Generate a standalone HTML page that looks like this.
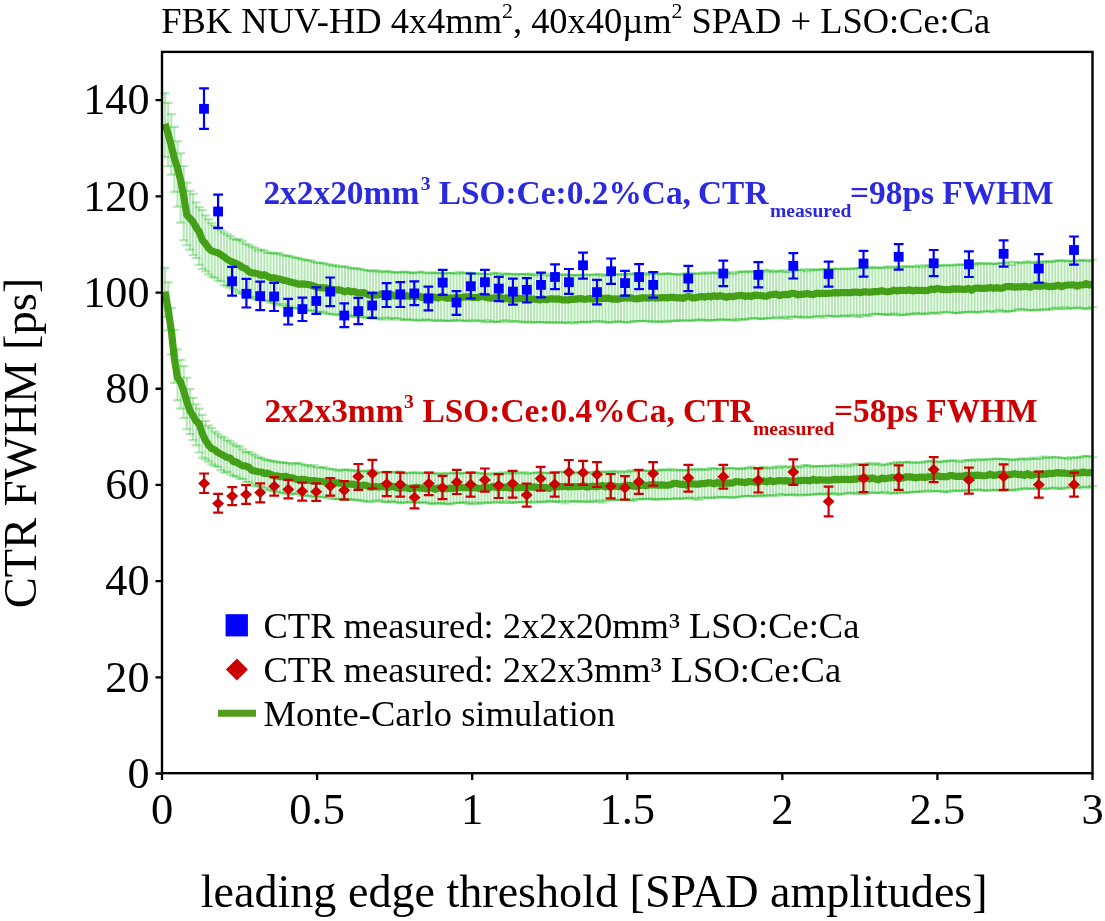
<!DOCTYPE html>
<html><head><meta charset="utf-8"><style>
html,body{margin:0;padding:0;background:#fff;width:1105px;height:921px;overflow:hidden;}
svg{display:block;font-family:"Liberation Serif",serif;will-change:transform;}
</style></head><body>
<svg width="1105" height="921" viewBox="0 0 1105 921">
<rect width="1105" height="921" fill="#fff"/>
<polyline points="165.10,123.68 168.20,134.35 171.31,145.89 174.41,158.51 177.51,167.78 180.61,180.20 183.71,196.06 186.81,214.80 189.91,218.38 193.02,221.96 196.12,227.35 199.22,231.88 202.32,240.08 205.42,243.48 208.53,248.17 211.63,250.86 214.73,251.85 217.83,252.72 220.93,254.78 224.03,256.71 227.13,259.41 230.24,261.01 233.34,262.33 236.44,263.74 239.54,265.24 242.64,267.50 245.75,268.66 248.85,271.74 251.95,272.85 255.05,273.14 258.15,273.88 261.25,275.68 264.36,274.70 267.46,276.29 270.56,277.88 273.66,277.83 276.76,278.56 279.86,279.12 282.97,280.12 286.07,280.68 289.17,281.64 292.27,282.56 295.37,283.10 298.47,284.26 301.58,283.89 304.68,284.08 307.78,284.46 310.88,285.08 313.98,286.17 317.08,287.51 320.19,287.63 323.29,287.79 326.39,288.10 329.49,288.92 332.59,289.52 335.69,289.83 338.80,289.78 341.90,290.64 345.00,291.77 348.10,290.56 351.20,291.92 354.30,291.36 357.41,292.90 360.51,292.82 363.61,292.54 366.71,294.02 369.81,295.17 372.91,294.47 376.01,295.15 379.12,294.69 382.22,293.80 385.32,295.28 388.42,294.98 391.52,294.61 394.62,295.89 397.73,295.79 400.83,295.54 403.93,296.39 407.03,295.67 410.13,296.59 413.24,295.95 416.34,296.84 419.44,296.18 422.54,297.63 425.64,297.16 428.74,297.91 431.85,296.93 434.95,297.26 438.05,298.07 441.15,296.43 444.25,297.22 447.35,298.22 450.46,297.88 453.56,298.09 456.66,297.40 459.76,297.79 462.86,297.19 465.96,296.93 469.07,296.83 472.17,297.46 475.27,297.52 478.37,297.54 481.47,296.14 484.57,296.98 487.68,297.77 490.78,298.24 493.88,297.87 496.98,297.78 500.08,297.13 503.18,299.35 506.29,297.85 509.39,299.30 512.49,299.30 515.59,298.72 518.69,298.36 521.79,298.77 524.89,298.19 528.00,298.95 531.10,298.89 534.20,299.21 537.30,299.48 540.40,299.93 543.51,298.93 546.61,299.71 549.71,298.85 552.81,298.86 555.91,299.06 559.01,298.89 562.12,299.83 565.22,299.75 568.32,299.88 571.42,299.19 574.52,299.30 577.62,298.83 580.73,298.50 583.83,299.25 586.93,299.12 590.03,298.39 593.13,299.19 596.23,297.98 599.34,298.72 602.44,298.45 605.54,298.45 608.64,298.13 611.74,299.10 614.84,298.86 617.95,299.12 621.05,298.55 624.15,297.79 627.25,298.20 630.35,297.75 633.45,298.52 636.56,298.85 639.66,298.36 642.76,297.85 645.86,297.92 648.96,298.16 652.06,297.29 655.17,298.04 658.27,298.02 661.37,297.60 664.47,297.62 667.57,297.86 670.67,297.32 673.78,297.27 676.88,298.03 679.98,297.70 683.08,298.38 686.18,297.00 689.28,296.56 692.39,297.87 695.49,297.83 698.59,296.94 701.69,296.50 704.79,297.12 707.89,296.17 711.00,296.79 714.10,295.77 717.20,296.65 720.30,295.62 723.40,296.46 726.50,297.25 729.61,296.26 732.71,296.69 735.81,295.89 738.91,295.67 742.01,295.27 745.11,296.45 748.22,295.81 751.32,296.55 754.42,295.06 757.52,295.44 760.62,295.50 763.72,296.07 766.83,296.18 769.93,294.85 773.03,294.52 776.13,294.12 779.23,295.57 782.33,294.76 785.44,294.39 788.54,294.59 791.64,293.25 794.74,293.57 797.84,294.81 800.94,294.44 804.05,294.20 807.15,293.52 810.25,294.20 813.35,294.68 816.45,293.07 819.55,293.58 822.66,293.24 825.76,293.53 828.86,293.24 831.96,293.05 835.06,292.57 838.16,292.89 841.27,292.48 844.37,292.60 847.47,292.53 850.57,292.78 853.67,292.05 856.77,292.07 859.88,292.65 862.98,291.90 866.08,291.76 869.18,292.21 872.28,291.81 875.38,291.60 878.49,291.56 881.59,290.72 884.69,291.46 887.79,291.78 890.89,291.29 893.99,290.11 897.10,290.92 900.20,290.22 903.30,290.46 906.40,290.54 909.50,289.78 912.60,290.94 915.71,290.14 918.81,290.47 921.91,290.29 925.01,290.55 928.11,290.37 931.21,288.94 934.32,289.60 937.42,288.41 940.52,289.15 943.62,289.63 946.72,289.63 949.82,289.72 952.93,288.79 956.03,289.04 959.13,288.83 962.23,289.31 965.33,289.37 968.43,288.30 971.54,290.27 974.64,288.28 977.74,288.00 980.84,288.38 983.94,288.36 987.04,288.15 990.15,287.46 993.25,288.42 996.35,287.61 999.45,288.25 1002.55,288.08 1005.65,286.65 1008.76,286.70 1011.86,286.59 1014.96,287.11 1018.06,286.91 1021.16,286.92 1024.26,286.28 1027.37,286.80 1030.47,287.19 1033.57,285.72 1036.67,286.19 1039.77,286.31 1042.87,286.02 1045.98,285.89 1049.08,286.77 1052.18,286.43 1055.28,286.12 1058.38,285.21 1061.48,286.61 1064.59,285.57 1067.69,285.00 1070.79,285.02 1073.89,284.85 1076.99,286.05 1080.09,285.00 1083.20,284.82 1086.30,283.62 1089.40,284.96 1092.50,283.96" stroke="#559b1e" stroke-width="7.2" fill="none" stroke-linejoin="round" stroke-linecap="butt"/>
<path d="M165.10 93.03V156.99M168.20 102.96V166.14M171.31 114.15V174.57M174.41 126.88V191.90M177.51 141.27V206.67M180.61 153.32V222.58M183.71 166.01V240.25M186.81 182.71V245.28M189.91 190.80V249.71M193.02 193.81V255.00M196.12 202.38V258.08M199.22 207.16V264.94M202.32 209.98V268.83M205.42 215.33V271.42M208.53 219.34V274.37M211.63 223.09V276.73M214.73 225.85V277.82M217.83 228.66V280.50M220.93 230.21V281.38M224.03 232.38V285.10M227.13 234.38V286.13M230.24 236.06V287.72M233.34 238.60V289.47M236.44 239.97V291.34M239.54 239.29V292.99M242.64 241.34V294.04M245.75 243.76V295.67M248.85 244.93V296.96M251.95 246.62V297.47M255.05 247.93V299.04M258.15 250.39V299.86M261.25 249.51V299.93M264.36 250.65V300.99M267.46 252.80V300.68M270.56 252.66V302.65M273.66 253.37V303.03M276.76 253.36V304.13M279.86 253.38V305.58M282.97 255.17V304.04M286.07 255.83V306.35M289.17 255.73V306.31M292.27 256.75V308.11M295.37 257.82V307.75M298.47 257.93V308.77M301.58 259.06V309.66M304.68 259.79V310.37M307.78 260.38V310.51M310.88 260.67V310.46M313.98 261.95V311.07M317.08 262.75V312.39M320.19 263.03V312.32M323.29 262.97V311.78M326.39 264.52V313.76M329.49 264.40V313.97M332.59 265.82V314.68M335.69 265.11V314.26M338.80 266.76V315.26M341.90 266.66V314.43M345.00 266.38V315.71M348.10 267.40V315.37M351.20 268.09V316.37M354.30 268.68V316.87M357.41 268.39V316.13M360.51 268.77V316.84M363.61 270.02V317.20M366.71 270.08V318.19M369.81 270.88V318.17M372.91 271.35V317.16M376.01 270.06V318.33M379.12 271.36V318.65M382.22 272.10V319.64M385.32 271.34V317.51M388.42 271.18V318.35M391.52 272.28V319.63M394.62 272.13V318.17M397.73 272.67V318.42M400.83 272.08V319.60M403.93 271.56V320.06M407.03 272.46V319.16M410.13 272.29V319.97M413.24 273.06V319.80M416.34 272.74V320.73M419.44 271.68V319.90M422.54 271.98V320.58M425.64 273.26V319.53M428.74 273.17V320.05M431.85 272.41V320.19M434.95 272.83V321.02M438.05 273.13V320.77M441.15 273.18V320.05M444.25 273.48V320.96M447.35 273.15V321.07M450.46 272.99V320.59M453.56 272.94V320.56M456.66 273.78V320.65M459.76 271.84V319.80M462.86 273.16V320.99M465.96 273.31V321.07M469.07 272.49V320.46M472.17 273.59V321.48M475.27 273.05V320.26M478.37 274.01V320.81M481.47 273.46V320.91M484.57 273.99V322.44M487.68 274.37V320.34M490.78 273.91V321.69M493.88 273.21V321.97M496.98 272.87V321.68M500.08 274.88V322.22M503.18 273.81V320.96M506.29 273.51V320.25M509.39 274.06V322.13M512.49 273.91V321.00M515.59 274.58V321.58M518.69 274.14V321.12M521.79 274.18V322.51M524.89 273.79V322.45M528.00 274.55V321.56M531.10 273.70V322.58M534.20 274.78V322.17M537.30 275.36V322.06M540.40 273.59V322.23M543.51 273.09V322.13M546.61 275.00V322.67M549.71 276.22V322.54M552.81 274.16V322.20M555.91 274.07V323.07M559.01 275.23V322.12M562.12 274.44V322.61M565.22 274.70V322.65M568.32 274.86V323.23M571.42 275.45V322.00M574.52 274.95V323.30M577.62 275.42V322.32M580.73 275.18V322.05M583.83 274.70V321.71M586.93 274.95V322.42M590.03 274.50V322.06M593.13 275.00V321.32M596.23 274.25V321.26M599.34 274.19V321.56M602.44 275.65V321.44M605.54 274.67V322.45M608.64 274.60V322.58M611.74 274.87V322.23M614.84 274.23V321.87M617.95 274.28V321.36M621.05 274.60V321.60M624.15 274.44V322.05M627.25 273.50V322.75M630.35 274.63V321.98M633.45 273.70V321.22M636.56 273.35V321.36M639.66 273.37V321.00M642.76 273.65V320.78M645.86 274.84V321.09M648.96 273.13V321.27M652.06 273.92V322.21M655.17 272.52V321.09M658.27 273.78V321.83M661.37 274.30V322.03M664.47 273.59V320.97M667.57 273.34V321.84M670.67 273.83V321.26M673.78 274.09V320.54M676.88 274.05V320.90M679.98 274.82V320.71M683.08 273.74V320.51M686.18 273.24V320.49M689.28 273.50V320.65M692.39 273.51V320.77M695.49 273.60V319.94M698.59 273.49V320.42M701.69 273.55V319.43M704.79 272.34V320.41M707.89 273.75V320.53M711.00 272.80V320.16M714.10 272.35V320.13M717.20 273.33V320.22M720.30 273.64V319.37M723.40 273.05V319.53M726.50 272.75V319.88M729.61 271.99V320.08M732.71 274.18V319.62M735.81 272.88V320.82M738.91 271.57V319.14M742.01 271.69V319.70M745.11 272.11V319.76M748.22 271.02V318.83M751.32 271.96V318.32M754.42 271.48V318.00M757.52 272.40V318.71M760.62 272.14V319.19M763.72 269.83V318.59M766.83 271.39V318.43M769.93 270.29V318.00M773.03 271.83V318.47M776.13 271.16V316.76M779.23 271.29V318.08M782.33 270.23V317.86M785.44 271.86V316.93M788.54 271.88V318.96M791.64 269.93V316.73M794.74 270.69V316.82M797.84 269.97V316.65M800.94 270.26V317.94M804.05 269.41V316.64M807.15 271.19V317.48M810.25 269.39V317.33M813.35 269.70V317.04M816.45 270.07V316.01M819.55 269.29V316.33M822.66 269.43V317.60M825.76 269.14V315.73M828.86 269.30V315.91M831.96 268.57V316.21M835.06 268.92V316.70M838.16 268.95V316.27M841.27 268.78V316.47M844.37 268.91V315.28M847.47 268.61V316.40M850.57 269.13V316.07M853.67 268.39V314.68M856.77 268.40V316.46M859.88 267.99V316.82M862.98 267.97V314.89M866.08 267.43V315.28M869.18 268.40V315.99M872.28 267.30V314.17M875.38 267.44V313.77M878.49 268.00V314.09M881.59 267.93V314.43M884.69 267.35V314.33M887.79 266.28V314.94M890.89 267.64V314.64M893.99 267.45V313.64M897.10 266.35V314.63M900.20 267.55V315.32M903.30 266.56V314.81M906.40 266.19V314.59M909.50 266.80V313.91M912.60 266.52V314.39M915.71 266.64V313.12M918.81 265.43V314.06M921.91 267.37V313.46M925.01 265.81V314.09M928.11 265.13V313.59M931.21 266.31V312.56M934.32 265.61V313.19M937.42 265.90V313.75M940.52 265.38V312.24M943.62 265.44V312.49M946.72 265.50V312.26M949.82 264.79V311.73M952.93 265.53V313.10M956.03 264.73V313.22M959.13 264.37V312.81M962.23 264.82V312.38M965.33 264.93V312.10M968.43 264.41V312.18M971.54 263.91V311.50M974.64 264.69V312.38M977.74 263.14V312.37M980.84 263.47V312.20M983.94 263.99V311.23M987.04 263.04V311.50M990.15 263.75V311.25M993.25 263.59V312.33M996.35 264.04V311.26M999.45 262.84V309.93M1002.55 262.90V311.20M1005.65 263.36V311.99M1008.76 261.57V311.17M1011.86 264.79V311.19M1014.96 262.39V310.59M1018.06 262.26V309.29M1021.16 263.10V309.28M1024.26 262.44V309.52M1027.37 261.28V310.10M1030.47 262.61V310.26M1033.57 262.63V310.39M1036.67 261.73V309.68M1039.77 261.72V310.36M1042.87 262.06V309.52M1045.98 261.11V309.16M1049.08 261.80V310.00M1052.18 261.54V308.84M1055.28 260.90V307.65M1058.38 260.36V308.56M1061.48 260.94V309.15M1064.59 260.43V307.15M1067.69 261.45V308.69M1070.79 260.82V308.60M1073.89 261.08V307.85M1076.99 260.58V307.72M1080.09 260.54V308.23M1083.20 259.80V308.08M1086.30 260.55V309.07M1089.40 261.11V308.44M1092.50 259.73V307.17" stroke="#00b400" stroke-opacity="0.30" stroke-width="2.0" fill="none"/>
<path d="M160.60 93.03h9M160.60 156.99h9M169.91 126.88h9M169.91 191.90h9M179.21 166.01h9M179.21 240.25h9M188.52 193.81h9M188.52 255.00h9M197.82 209.98h9M197.82 268.83h9M207.13 223.09h9M207.13 276.73h9M216.43 230.21h9M216.43 281.38h9M225.74 236.06h9M225.74 287.72h9M235.04 239.29h9M235.04 292.99h9M244.35 244.93h9M244.35 296.96h9M253.65 250.39h9M253.65 299.86h9M262.96 252.80h9M262.96 300.68h9M272.26 253.36h9M272.26 304.13h9M281.57 255.83h9M281.57 306.35h9M290.87 257.82h9M290.87 307.75h9M300.18 259.79h9M300.18 310.37h9M309.48 261.95h9M309.48 311.07h9M318.79 262.97h9M318.79 311.78h9M328.09 265.82h9M328.09 314.68h9M337.40 266.66h9M337.40 314.43h9M346.70 268.09h9M346.70 316.37h9M356.01 268.77h9M356.01 316.84h9M365.31 270.88h9M365.31 318.17h9M374.62 271.36h9M374.62 318.65h9M383.92 271.18h9M383.92 318.35h9M393.23 272.67h9M393.23 318.42h9M402.53 272.46h9M402.53 319.16h9M411.84 272.74h9M411.84 320.73h9M421.14 273.26h9M421.14 319.53h9M430.45 272.83h9M430.45 321.02h9M439.75 273.48h9M439.75 320.96h9M449.06 272.94h9M449.06 320.56h9M458.36 273.16h9M458.36 320.99h9M467.67 273.59h9M467.67 321.48h9M476.97 273.46h9M476.97 320.91h9M486.28 273.91h9M486.28 321.69h9M495.58 274.88h9M495.58 322.22h9M504.89 274.06h9M504.89 322.13h9M514.19 274.14h9M514.19 321.12h9M523.50 274.55h9M523.50 321.56h9M532.80 275.36h9M532.80 322.06h9M542.11 275.00h9M542.11 322.67h9M551.41 274.07h9M551.41 323.07h9M560.72 274.70h9M560.72 322.65h9M570.02 274.95h9M570.02 323.30h9M579.33 274.70h9M579.33 321.71h9M588.63 275.00h9M588.63 321.32h9M597.94 275.65h9M597.94 321.44h9M607.24 274.87h9M607.24 322.23h9M616.55 274.60h9M616.55 321.60h9M625.85 274.63h9M625.85 321.98h9M635.16 273.37h9M635.16 321.00h9M644.46 273.13h9M644.46 321.27h9M653.77 273.78h9M653.77 321.83h9M663.07 273.34h9M663.07 321.84h9M672.38 274.05h9M672.38 320.90h9M681.68 273.24h9M681.68 320.49h9M690.99 273.60h9M690.99 319.94h9M700.29 272.34h9M700.29 320.41h9M709.60 272.35h9M709.60 320.13h9M718.90 273.05h9M718.90 319.53h9M728.21 274.18h9M728.21 319.62h9M737.51 271.69h9M737.51 319.70h9M746.82 271.96h9M746.82 318.32h9M756.12 272.14h9M756.12 319.19h9M765.43 270.29h9M765.43 318.00h9M774.73 271.29h9M774.73 318.08h9M784.04 271.88h9M784.04 318.96h9M793.34 269.97h9M793.34 316.65h9M802.65 271.19h9M802.65 317.48h9M811.95 270.07h9M811.95 316.01h9M821.26 269.14h9M821.26 315.73h9M830.56 268.92h9M830.56 316.70h9M839.87 268.91h9M839.87 315.28h9M849.17 268.39h9M849.17 314.68h9M858.48 267.97h9M858.48 314.89h9M867.78 267.30h9M867.78 314.17h9M877.09 267.93h9M877.09 314.43h9M886.39 267.64h9M886.39 314.64h9M895.70 267.55h9M895.70 315.32h9M905.00 266.80h9M905.00 313.91h9M914.31 265.43h9M914.31 314.06h9M923.61 265.13h9M923.61 313.59h9M932.92 265.90h9M932.92 313.75h9M942.22 265.50h9M942.22 312.26h9M951.53 264.73h9M951.53 313.22h9M960.83 264.93h9M960.83 312.10h9M970.14 264.69h9M970.14 312.38h9M979.44 263.99h9M979.44 311.23h9M988.75 263.59h9M988.75 312.33h9M998.05 262.90h9M998.05 311.20h9M1007.36 264.79h9M1007.36 311.19h9M1016.66 263.10h9M1016.66 309.28h9M1025.97 262.61h9M1025.97 310.26h9M1035.27 261.72h9M1035.27 310.36h9M1044.58 261.80h9M1044.58 310.00h9M1053.88 260.36h9M1053.88 308.56h9M1063.19 261.45h9M1063.19 308.69h9M1072.49 260.58h9M1072.49 307.72h9M1081.80 260.55h9M1081.80 309.07h9" stroke="#00b400" stroke-opacity="0.30" stroke-width="2.2" fill="none"/>
<path d="M163.70 102.96h9M163.70 166.14h9M173.01 141.27h9M173.01 206.67h9M182.31 182.71h9M182.31 245.28h9M191.62 202.38h9M191.62 258.08h9M200.92 215.33h9M200.92 271.42h9M210.23 225.85h9M210.23 277.82h9M219.53 232.38h9M219.53 285.10h9M228.84 238.60h9M228.84 289.47h9M238.14 241.34h9M238.14 294.04h9M247.45 246.62h9M247.45 297.47h9M256.75 249.51h9M256.75 299.93h9M266.06 252.66h9M266.06 302.65h9M275.36 253.38h9M275.36 305.58h9M284.67 255.73h9M284.67 306.31h9M293.97 257.93h9M293.97 308.77h9M303.28 260.38h9M303.28 310.51h9M312.58 262.75h9M312.58 312.39h9M321.89 264.52h9M321.89 313.76h9M331.19 265.11h9M331.19 314.26h9M340.50 266.38h9M340.50 315.71h9M349.80 268.68h9M349.80 316.87h9M359.11 270.02h9M359.11 317.20h9M368.41 271.35h9M368.41 317.16h9M377.72 272.10h9M377.72 319.64h9M387.02 272.28h9M387.02 319.63h9M396.33 272.08h9M396.33 319.60h9M405.63 272.29h9M405.63 319.97h9M414.94 271.68h9M414.94 319.90h9M424.24 273.17h9M424.24 320.05h9M433.55 273.13h9M433.55 320.77h9M442.85 273.15h9M442.85 321.07h9M452.16 273.78h9M452.16 320.65h9M461.46 273.31h9M461.46 321.07h9M470.77 273.05h9M470.77 320.26h9M480.07 273.99h9M480.07 322.44h9M489.38 273.21h9M489.38 321.97h9M498.68 273.81h9M498.68 320.96h9M507.99 273.91h9M507.99 321.00h9M517.29 274.18h9M517.29 322.51h9M526.60 273.70h9M526.60 322.58h9M535.90 273.59h9M535.90 322.23h9M545.21 276.22h9M545.21 322.54h9M554.51 275.23h9M554.51 322.12h9M563.82 274.86h9M563.82 323.23h9M573.12 275.42h9M573.12 322.32h9M582.43 274.95h9M582.43 322.42h9M591.73 274.25h9M591.73 321.26h9M601.04 274.67h9M601.04 322.45h9M610.34 274.23h9M610.34 321.87h9M619.65 274.44h9M619.65 322.05h9M628.95 273.70h9M628.95 321.22h9M638.26 273.65h9M638.26 320.78h9M647.56 273.92h9M647.56 322.21h9M656.87 274.30h9M656.87 322.03h9M666.17 273.83h9M666.17 321.26h9M675.48 274.82h9M675.48 320.71h9M684.78 273.50h9M684.78 320.65h9M694.09 273.49h9M694.09 320.42h9M703.39 273.75h9M703.39 320.53h9M712.70 273.33h9M712.70 320.22h9M722.00 272.75h9M722.00 319.88h9M731.31 272.88h9M731.31 320.82h9M740.61 272.11h9M740.61 319.76h9M749.92 271.48h9M749.92 318.00h9M759.22 269.83h9M759.22 318.59h9M768.53 271.83h9M768.53 318.47h9M777.83 270.23h9M777.83 317.86h9M787.14 269.93h9M787.14 316.73h9M796.44 270.26h9M796.44 317.94h9M805.75 269.39h9M805.75 317.33h9M815.05 269.29h9M815.05 316.33h9M824.36 269.30h9M824.36 315.91h9M833.66 268.95h9M833.66 316.27h9M842.97 268.61h9M842.97 316.40h9M852.27 268.40h9M852.27 316.46h9M861.58 267.43h9M861.58 315.28h9M870.88 267.44h9M870.88 313.77h9M880.19 267.35h9M880.19 314.33h9M889.49 267.45h9M889.49 313.64h9M898.80 266.56h9M898.80 314.81h9M908.10 266.52h9M908.10 314.39h9M917.41 267.37h9M917.41 313.46h9M926.71 266.31h9M926.71 312.56h9M936.02 265.38h9M936.02 312.24h9M945.32 264.79h9M945.32 311.73h9M954.63 264.37h9M954.63 312.81h9M963.93 264.41h9M963.93 312.18h9M973.24 263.14h9M973.24 312.37h9M982.54 263.04h9M982.54 311.50h9M991.85 264.04h9M991.85 311.26h9M1001.15 263.36h9M1001.15 311.99h9M1010.46 262.39h9M1010.46 310.59h9M1019.76 262.44h9M1019.76 309.52h9M1029.07 262.63h9M1029.07 310.39h9M1038.37 262.06h9M1038.37 309.52h9M1047.68 261.54h9M1047.68 308.84h9M1056.98 260.94h9M1056.98 309.15h9M1066.29 260.82h9M1066.29 308.60h9M1075.59 260.54h9M1075.59 308.23h9M1084.90 261.11h9M1084.90 308.44h9" stroke="#00b400" stroke-opacity="0.30" stroke-width="2.2" fill="none"/>
<path d="M166.81 114.15h9M166.81 174.57h9M176.11 153.32h9M176.11 222.58h9M185.41 190.80h9M185.41 249.71h9M194.72 207.16h9M194.72 264.94h9M204.03 219.34h9M204.03 274.37h9M213.33 228.66h9M213.33 280.50h9M222.63 234.38h9M222.63 286.13h9M231.94 239.97h9M231.94 291.34h9M241.25 243.76h9M241.25 295.67h9M250.55 247.93h9M250.55 299.04h9M259.86 250.65h9M259.86 300.99h9M269.16 253.37h9M269.16 303.03h9M278.47 255.17h9M278.47 304.04h9M287.77 256.75h9M287.77 308.11h9M297.08 259.06h9M297.08 309.66h9M306.38 260.67h9M306.38 310.46h9M315.69 263.03h9M315.69 312.32h9M324.99 264.40h9M324.99 313.97h9M334.30 266.76h9M334.30 315.26h9M343.60 267.40h9M343.60 315.37h9M352.91 268.39h9M352.91 316.13h9M362.21 270.08h9M362.21 318.19h9M371.51 270.06h9M371.51 318.33h9M380.82 271.34h9M380.82 317.51h9M390.12 272.13h9M390.12 318.17h9M399.43 271.56h9M399.43 320.06h9M408.74 273.06h9M408.74 319.80h9M418.04 271.98h9M418.04 320.58h9M427.35 272.41h9M427.35 320.19h9M436.65 273.18h9M436.65 320.05h9M445.96 272.99h9M445.96 320.59h9M455.26 271.84h9M455.26 319.80h9M464.57 272.49h9M464.57 320.46h9M473.87 274.01h9M473.87 320.81h9M483.18 274.37h9M483.18 320.34h9M492.48 272.87h9M492.48 321.68h9M501.79 273.51h9M501.79 320.25h9M511.09 274.58h9M511.09 321.58h9M520.39 273.79h9M520.39 322.45h9M529.70 274.78h9M529.70 322.17h9M539.01 273.09h9M539.01 322.13h9M548.31 274.16h9M548.31 322.20h9M557.62 274.44h9M557.62 322.61h9M566.92 275.45h9M566.92 322.00h9M576.23 275.18h9M576.23 322.05h9M585.53 274.50h9M585.53 322.06h9M594.84 274.19h9M594.84 321.56h9M604.14 274.60h9M604.14 322.58h9M613.45 274.28h9M613.45 321.36h9M622.75 273.50h9M622.75 322.75h9M632.06 273.35h9M632.06 321.36h9M641.36 274.84h9M641.36 321.09h9M650.67 272.52h9M650.67 321.09h9M659.97 273.59h9M659.97 320.97h9M669.28 274.09h9M669.28 320.54h9M678.58 273.74h9M678.58 320.51h9M687.89 273.51h9M687.89 320.77h9M697.19 273.55h9M697.19 319.43h9M706.50 272.80h9M706.50 320.16h9M715.80 273.64h9M715.80 319.37h9M725.11 271.99h9M725.11 320.08h9M734.41 271.57h9M734.41 319.14h9M743.72 271.02h9M743.72 318.83h9M753.02 272.40h9M753.02 318.71h9M762.33 271.39h9M762.33 318.43h9M771.63 271.16h9M771.63 316.76h9M780.94 271.86h9M780.94 316.93h9M790.24 270.69h9M790.24 316.82h9M799.55 269.41h9M799.55 316.64h9M808.85 269.70h9M808.85 317.04h9M818.16 269.43h9M818.16 317.60h9M827.46 268.57h9M827.46 316.21h9M836.77 268.78h9M836.77 316.47h9M846.07 269.13h9M846.07 316.07h9M855.38 267.99h9M855.38 316.82h9M864.68 268.40h9M864.68 315.99h9M873.99 268.00h9M873.99 314.09h9M883.29 266.28h9M883.29 314.94h9M892.60 266.35h9M892.60 314.63h9M901.90 266.19h9M901.90 314.59h9M911.21 266.64h9M911.21 313.12h9M920.51 265.81h9M920.51 314.09h9M929.82 265.61h9M929.82 313.19h9M939.12 265.44h9M939.12 312.49h9M948.43 265.53h9M948.43 313.10h9M957.73 264.82h9M957.73 312.38h9M967.04 263.91h9M967.04 311.50h9M976.34 263.47h9M976.34 312.20h9M985.65 263.75h9M985.65 311.25h9M994.95 262.84h9M994.95 309.93h9M1004.26 261.57h9M1004.26 311.17h9M1013.56 262.26h9M1013.56 309.29h9M1022.87 261.28h9M1022.87 310.10h9M1032.17 261.73h9M1032.17 309.68h9M1041.48 261.11h9M1041.48 309.16h9M1050.78 260.90h9M1050.78 307.65h9M1060.09 260.43h9M1060.09 307.15h9M1069.39 261.08h9M1069.39 307.85h9M1078.70 259.80h9M1078.70 308.08h9M1088.00 259.73h9M1088.00 307.17h9" stroke="#00b400" stroke-opacity="0.30" stroke-width="2.2" fill="none"/>
<polyline points="165.10,291.53 168.20,309.80 171.31,330.24 174.41,358.99 177.51,377.61 180.61,381.88 183.71,391.08 186.81,401.43 189.91,410.70 193.02,415.66 196.12,420.91 199.22,423.96 202.32,433.53 205.42,440.11 208.53,445.03 211.63,448.49 214.73,449.73 217.83,452.42 220.93,454.17 224.03,455.80 227.13,457.45 230.24,458.10 233.34,461.69 236.44,462.10 239.54,464.13 242.64,465.88 245.75,465.93 248.85,467.36 251.95,470.37 255.05,471.07 258.15,471.77 261.25,471.98 264.36,473.34 267.46,473.06 270.56,474.25 273.66,475.86 276.76,475.73 279.86,476.61 282.97,476.55 286.07,476.45 289.17,477.71 292.27,477.75 295.37,479.09 298.47,479.76 301.58,479.25 304.68,479.42 307.78,480.15 310.88,480.81 313.98,480.67 317.08,481.05 320.19,481.27 323.29,481.75 326.39,482.22 329.49,481.86 332.59,482.28 335.69,482.85 338.80,482.80 341.90,483.51 345.00,484.02 348.10,484.05 351.20,484.07 354.30,484.29 357.41,485.86 360.51,485.73 363.61,485.04 366.71,485.49 369.81,487.10 372.91,487.07 376.01,486.53 379.12,487.20 382.22,486.03 385.32,486.93 388.42,487.46 391.52,486.31 394.62,487.00 397.73,487.94 400.83,488.27 403.93,487.56 407.03,488.07 410.13,488.76 413.24,487.80 416.34,487.36 419.44,488.03 422.54,487.90 425.64,488.78 428.74,488.24 431.85,487.80 434.95,489.43 438.05,488.02 441.15,488.53 444.25,488.57 447.35,488.56 450.46,488.19 453.56,488.33 456.66,487.94 459.76,487.20 462.86,487.76 465.96,487.75 469.07,487.73 472.17,487.86 475.27,487.45 478.37,488.39 481.47,488.48 484.57,486.57 487.68,487.65 490.78,487.26 493.88,486.28 496.98,487.76 500.08,487.22 503.18,487.31 506.29,487.14 509.39,487.98 512.49,488.03 515.59,487.52 518.69,487.70 521.79,487.27 524.89,487.37 528.00,486.90 531.10,487.26 534.20,486.85 537.30,487.37 540.40,487.57 543.51,487.28 546.61,487.69 549.71,488.41 552.81,485.98 555.91,487.02 559.01,486.70 562.12,486.72 565.22,486.24 568.32,486.92 571.42,486.74 574.52,486.52 577.62,486.68 580.73,486.48 583.83,485.58 586.93,487.26 590.03,486.54 593.13,486.19 596.23,486.79 599.34,486.27 602.44,485.44 605.54,486.88 608.64,485.50 611.74,486.14 614.84,486.22 617.95,486.74 621.05,486.57 624.15,485.96 627.25,485.41 630.35,485.49 633.45,486.15 636.56,486.41 639.66,485.69 642.76,485.01 645.86,485.75 648.96,484.96 652.06,484.85 655.17,484.82 658.27,485.16 661.37,484.91 664.47,485.18 667.57,485.24 670.67,484.76 673.78,483.24 676.88,483.47 679.98,484.30 683.08,484.10 686.18,485.12 689.28,483.93 692.39,483.78 695.49,484.23 698.59,484.20 701.69,483.46 704.79,483.72 707.89,482.82 711.00,482.83 714.10,483.82 717.20,482.41 720.30,483.48 723.40,483.27 726.50,483.22 729.61,483.20 732.71,482.94 735.81,481.49 738.91,481.97 742.01,482.08 745.11,482.74 748.22,481.63 751.32,481.75 754.42,481.83 757.52,482.57 760.62,481.10 763.72,481.05 766.83,481.95 769.93,480.48 773.03,481.62 776.13,481.14 779.23,480.48 782.33,480.97 785.44,480.58 788.54,481.08 791.64,481.08 794.74,481.55 797.84,480.71 800.94,480.67 804.05,480.24 807.15,480.43 810.25,480.87 813.35,479.29 816.45,480.49 819.55,479.80 822.66,480.02 825.76,480.05 828.86,480.22 831.96,479.82 835.06,479.41 838.16,479.67 841.27,479.43 844.37,479.23 847.47,479.34 850.57,479.59 853.67,479.13 856.77,479.04 859.88,478.23 862.98,478.72 866.08,477.76 869.18,478.96 872.28,478.03 875.38,479.06 878.49,479.82 881.59,478.03 884.69,478.80 887.79,478.24 890.89,477.67 893.99,477.44 897.10,478.05 900.20,478.37 903.30,477.76 906.40,476.73 909.50,476.88 912.60,477.19 915.71,477.89 918.81,477.26 921.91,477.19 925.01,477.54 928.11,476.74 931.21,476.71 934.32,476.57 937.42,475.68 940.52,476.71 943.62,476.59 946.72,476.78 949.82,475.60 952.93,475.70 956.03,476.48 959.13,476.08 962.23,476.52 965.33,475.30 968.43,475.74 971.54,475.21 974.64,475.61 977.74,475.12 980.84,475.55 983.94,475.75 987.04,475.47 990.15,474.15 993.25,475.45 996.35,475.13 999.45,474.31 1002.55,474.32 1005.65,474.69 1008.76,474.90 1011.86,474.31 1014.96,473.65 1018.06,474.53 1021.16,474.40 1024.26,475.46 1027.37,473.52 1030.47,475.35 1033.57,474.89 1036.67,474.09 1039.77,474.69 1042.87,473.84 1045.98,474.21 1049.08,473.28 1052.18,473.61 1055.28,472.99 1058.38,472.63 1061.48,473.21 1064.59,472.94 1067.69,473.48 1070.79,473.76 1073.89,472.96 1076.99,473.00 1080.09,472.99 1083.20,471.98 1086.30,472.88 1089.40,472.68 1092.50,472.58" stroke="#559b1e" stroke-width="7.2" fill="none" stroke-linejoin="round" stroke-linecap="butt"/>
<path d="M165.10 267.91V317.01M168.20 282.41V330.33M171.31 307.91V354.35M174.41 329.99V382.78M177.51 349.30V400.39M180.61 359.94V408.65M183.71 366.13V417.99M186.81 377.75V429.27M189.91 389.00V434.15M193.02 397.91V440.06M196.12 404.29V445.47M199.22 408.55V452.48M202.32 414.92V457.59M205.42 421.02V459.44M208.53 425.54V461.68M211.63 428.08V464.28M214.73 431.62V465.86M217.83 433.84V467.15M220.93 436.42V470.03M224.03 437.68V472.65M227.13 440.27V471.85M230.24 441.44V474.50M233.34 443.57V476.22M236.44 445.67V476.61M239.54 446.60V478.55M242.64 449.43V478.99M245.75 452.05V481.76M248.85 451.79V482.26M251.95 453.70V484.26M255.05 455.06V486.19M258.15 457.33V486.44M261.25 457.78V486.53M264.36 459.29V488.20M267.46 460.03V489.90M270.56 460.67V490.33M273.66 461.35V491.46M276.76 461.60V491.61M279.86 462.74V492.69M282.97 462.06V493.35M286.07 462.82V493.26M289.17 463.35V494.70M292.27 464.42V493.77M295.37 463.01V493.61M298.47 463.22V493.58M301.58 464.00V495.55M304.68 465.38V495.13M307.78 465.13V496.08M310.88 466.53V496.06M313.98 465.07V497.07M317.08 467.34V497.17M320.19 467.75V496.49M323.29 466.74V497.19M326.39 468.15V497.99M329.49 469.25V496.91M332.59 469.00V498.83M335.69 469.77V498.99M338.80 470.82V499.15M341.90 469.79V498.74M345.00 469.68V499.35M348.10 469.61V498.80M351.20 470.69V499.80M354.30 470.41V499.72M357.41 470.65V500.42M360.51 470.92V500.38M363.61 471.60V501.15M366.71 470.79V501.98M369.81 470.70V500.73M372.91 470.24V502.15M376.01 472.49V500.48M379.12 471.90V500.46M382.22 472.84V501.76M385.32 472.00V501.91M388.42 471.64V502.25M391.52 472.45V501.07M394.62 472.19V502.10M397.73 471.57V502.29M400.83 471.86V503.05M403.93 473.53V502.31M407.03 472.76V502.77M410.13 472.88V501.94M413.24 472.54V502.49M416.34 472.37V502.42M419.44 473.40V503.18M422.54 472.88V502.25M425.64 472.56V502.42M428.74 473.01V503.34M431.85 472.63V504.14M434.95 473.36V503.38M438.05 474.00V503.41M441.15 472.90V503.09M444.25 474.26V503.95M447.35 473.00V503.62M450.46 473.49V504.34M453.56 472.90V503.50M456.66 473.27V502.73M459.76 473.43V502.96M462.86 473.11V502.66M465.96 472.92V502.46M469.07 472.91V503.92M472.17 472.79V503.59M475.27 472.32V502.32M478.37 473.07V504.08M481.47 473.44V503.11M484.57 473.72V502.34M487.68 473.53V503.10M490.78 474.59V502.77M493.88 473.28V502.30M496.98 472.78V501.55M500.08 474.15V502.69M503.18 472.37V502.80M506.29 473.55V501.03M509.39 472.37V502.86M512.49 473.13V502.85M515.59 471.70V502.14M518.69 473.39V502.44M521.79 472.73V502.16M524.89 472.22V501.78M528.00 473.78V502.02M531.10 473.20V502.99M534.20 472.74V501.26M537.30 472.23V502.23M540.40 472.63V502.15M543.51 472.53V501.56M546.61 473.03V501.67M549.71 473.05V501.05M552.81 472.14V501.33M555.91 472.18V501.80M559.01 472.16V501.94M562.12 471.64V501.16M565.22 472.07V503.48M568.32 472.34V501.26M571.42 472.78V501.63M574.52 473.13V501.36M577.62 471.82V501.21M580.73 472.61V502.18M583.83 471.98V501.07M586.93 473.47V502.11M590.03 472.16V501.94M593.13 472.47V500.58M596.23 471.57V501.78M599.34 471.62V500.72M602.44 472.15V502.67M605.54 471.72V500.69M608.64 472.07V500.26M611.74 470.84V499.58M614.84 472.09V499.86M617.95 471.06V500.19M621.05 472.55V499.84M624.15 471.26V499.60M627.25 472.00V499.82M630.35 470.42V500.02M633.45 471.43V500.92M636.56 470.55V498.93M639.66 470.71V499.52M642.76 470.93V499.18M645.86 470.64V498.75M648.96 470.90V498.80M652.06 471.11V498.92M655.17 470.96V499.79M658.27 470.43V499.15M661.37 469.58V498.84M664.47 469.83V499.44M667.57 470.11V499.14M670.67 468.87V498.74M673.78 470.51V499.01M676.88 469.82V498.18M679.98 469.73V498.96M683.08 470.37V498.76M686.18 470.11V498.14M689.28 469.76V497.56M692.39 468.94V499.10M695.49 469.64V498.15M698.59 469.57V499.83M701.69 468.75V497.50M704.79 469.82V498.31M707.89 469.41V497.44M711.00 467.84V497.76M714.10 469.01V498.01M717.20 468.09V496.93M720.30 469.45V497.25M723.40 469.16V497.31M726.50 467.93V497.18M729.61 467.98V497.38M732.71 468.48V497.54M735.81 468.19V497.32M738.91 469.16V496.88M742.01 468.61V496.42M745.11 467.91V495.85M748.22 468.34V495.99M751.32 466.69V496.02M754.42 468.00V496.65M757.52 468.25V495.92M760.62 467.54V495.30M763.72 467.13V496.32M766.83 467.81V495.36M769.93 468.56V495.29M773.03 467.43V495.51M776.13 466.54V495.84M779.23 468.00V494.01M782.33 465.92V494.68M785.44 467.26V495.36M788.54 466.52V494.94M791.64 467.34V494.54M794.74 466.19V494.64M797.84 467.41V495.70M800.94 466.71V494.50M804.05 465.41V495.13M807.15 465.17V495.10M810.25 466.08V494.29M813.35 466.96V494.75M816.45 466.17V494.14M819.55 466.05V493.97M822.66 465.76V493.58M825.76 466.23V494.71M828.86 465.90V493.87M831.96 465.73V493.71M835.06 464.85V493.29M838.16 466.04V494.97M841.27 466.03V494.26M844.37 464.32V493.66M847.47 466.37V493.25M850.57 465.31V492.67M853.67 464.47V493.69M856.77 463.50V493.62M859.88 464.92V492.52M862.98 464.75V493.99M866.08 463.94V493.69M869.18 463.11V492.57M872.28 464.75V492.74M875.38 463.60V492.74M878.49 463.56V493.02M881.59 465.44V492.76M884.69 464.89V491.79M887.79 464.07V493.59M890.89 463.11V492.82M893.99 463.66V493.31M897.10 461.79V493.23M900.20 463.11V492.28M903.30 462.47V492.54M906.40 462.04V492.70M909.50 461.75V492.65M912.60 462.90V492.01M915.71 462.52V491.67M918.81 462.45V491.98M921.91 462.75V491.41M925.01 461.62V491.48M928.11 461.27V490.52M931.21 460.83V491.72M934.32 461.58V490.98M937.42 462.13V491.18M940.52 461.47V491.41M943.62 461.83V491.56M946.72 460.62V492.43M949.82 460.93V491.34M952.93 460.64V490.30M956.03 460.23V491.15M959.13 461.99V490.64M962.23 461.27V491.16M965.33 460.18V490.44M968.43 460.07V490.35M971.54 460.38V490.40M974.64 459.43V490.25M977.74 460.44V489.46M980.84 459.30V490.07M983.94 459.76V490.38M987.04 459.28V491.01M990.15 459.52V490.03M993.25 458.91V489.89M996.35 458.68V490.37M999.45 458.95V490.26M1002.55 459.03V490.80M1005.65 459.17V490.10M1008.76 459.30V489.65M1011.86 460.09V490.37M1014.96 459.57V490.40M1018.06 458.84V489.10M1021.16 459.33V489.39M1024.26 458.39V488.20M1027.37 459.59V488.90M1030.47 458.96V488.50M1033.57 457.72V488.81M1036.67 458.90V488.56M1039.77 458.84V488.65M1042.87 456.65V488.60M1045.98 457.72V488.87M1049.08 457.80V488.62M1052.18 456.84V488.06M1055.28 457.26V487.53M1058.38 457.24V488.95M1061.48 458.02V488.97M1064.59 457.81V487.76M1067.69 459.11V488.28M1070.79 457.21V486.93M1073.89 458.05V486.82M1076.99 457.31V487.51M1080.09 457.34V488.46M1083.20 456.39V486.86M1086.30 455.85V486.90M1089.40 456.44V488.27M1092.50 457.27V486.08" stroke="#00b400" stroke-opacity="0.30" stroke-width="2.0" fill="none"/>
<path d="M160.60 267.91h9M160.60 317.01h9M169.91 329.99h9M169.91 382.78h9M179.21 366.13h9M179.21 417.99h9M188.52 397.91h9M188.52 440.06h9M197.82 414.92h9M197.82 457.59h9M207.13 428.08h9M207.13 464.28h9M216.43 436.42h9M216.43 470.03h9M225.74 441.44h9M225.74 474.50h9M235.04 446.60h9M235.04 478.55h9M244.35 451.79h9M244.35 482.26h9M253.65 457.33h9M253.65 486.44h9M262.96 460.03h9M262.96 489.90h9M272.26 461.60h9M272.26 491.61h9M281.57 462.82h9M281.57 493.26h9M290.87 463.01h9M290.87 493.61h9M300.18 465.38h9M300.18 495.13h9M309.48 465.07h9M309.48 497.07h9M318.79 466.74h9M318.79 497.19h9M328.09 469.00h9M328.09 498.83h9M337.40 469.79h9M337.40 498.74h9M346.70 470.69h9M346.70 499.80h9M356.01 470.92h9M356.01 500.38h9M365.31 470.70h9M365.31 500.73h9M374.62 471.90h9M374.62 500.46h9M383.92 471.64h9M383.92 502.25h9M393.23 471.57h9M393.23 502.29h9M402.53 472.76h9M402.53 502.77h9M411.84 472.37h9M411.84 502.42h9M421.14 472.56h9M421.14 502.42h9M430.45 473.36h9M430.45 503.38h9M439.75 474.26h9M439.75 503.95h9M449.06 472.90h9M449.06 503.50h9M458.36 473.11h9M458.36 502.66h9M467.67 472.79h9M467.67 503.59h9M476.97 473.44h9M476.97 503.11h9M486.28 474.59h9M486.28 502.77h9M495.58 474.15h9M495.58 502.69h9M504.89 472.37h9M504.89 502.86h9M514.19 473.39h9M514.19 502.44h9M523.50 473.78h9M523.50 502.02h9M532.80 472.23h9M532.80 502.23h9M542.11 473.03h9M542.11 501.67h9M551.41 472.18h9M551.41 501.80h9M560.72 472.07h9M560.72 503.48h9M570.02 473.13h9M570.02 501.36h9M579.33 471.98h9M579.33 501.07h9M588.63 472.47h9M588.63 500.58h9M597.94 472.15h9M597.94 502.67h9M607.24 470.84h9M607.24 499.58h9M616.55 472.55h9M616.55 499.84h9M625.85 470.42h9M625.85 500.02h9M635.16 470.71h9M635.16 499.52h9M644.46 470.90h9M644.46 498.80h9M653.77 470.43h9M653.77 499.15h9M663.07 470.11h9M663.07 499.14h9M672.38 469.82h9M672.38 498.18h9M681.68 470.11h9M681.68 498.14h9M690.99 469.64h9M690.99 498.15h9M700.29 469.82h9M700.29 498.31h9M709.60 469.01h9M709.60 498.01h9M718.90 469.16h9M718.90 497.31h9M728.21 468.48h9M728.21 497.54h9M737.51 468.61h9M737.51 496.42h9M746.82 466.69h9M746.82 496.02h9M756.12 467.54h9M756.12 495.30h9M765.43 468.56h9M765.43 495.29h9M774.73 468.00h9M774.73 494.01h9M784.04 466.52h9M784.04 494.94h9M793.34 467.41h9M793.34 495.70h9M802.65 465.17h9M802.65 495.10h9M811.95 466.17h9M811.95 494.14h9M821.26 466.23h9M821.26 494.71h9M830.56 464.85h9M830.56 493.29h9M839.87 464.32h9M839.87 493.66h9M849.17 464.47h9M849.17 493.69h9M858.48 464.75h9M858.48 493.99h9M867.78 464.75h9M867.78 492.74h9M877.09 465.44h9M877.09 492.76h9M886.39 463.11h9M886.39 492.82h9M895.70 463.11h9M895.70 492.28h9M905.00 461.75h9M905.00 492.65h9M914.31 462.45h9M914.31 491.98h9M923.61 461.27h9M923.61 490.52h9M932.92 462.13h9M932.92 491.18h9M942.22 460.62h9M942.22 492.43h9M951.53 460.23h9M951.53 491.15h9M960.83 460.18h9M960.83 490.44h9M970.14 459.43h9M970.14 490.25h9M979.44 459.76h9M979.44 490.38h9M988.75 458.91h9M988.75 489.89h9M998.05 459.03h9M998.05 490.80h9M1007.36 460.09h9M1007.36 490.37h9M1016.66 459.33h9M1016.66 489.39h9M1025.97 458.96h9M1025.97 488.50h9M1035.27 458.84h9M1035.27 488.65h9M1044.58 457.80h9M1044.58 488.62h9M1053.88 457.24h9M1053.88 488.95h9M1063.19 459.11h9M1063.19 488.28h9M1072.49 457.31h9M1072.49 487.51h9M1081.80 455.85h9M1081.80 486.90h9" stroke="#00b400" stroke-opacity="0.30" stroke-width="2.2" fill="none"/>
<path d="M163.70 282.41h9M163.70 330.33h9M173.01 349.30h9M173.01 400.39h9M182.31 377.75h9M182.31 429.27h9M191.62 404.29h9M191.62 445.47h9M200.92 421.02h9M200.92 459.44h9M210.23 431.62h9M210.23 465.86h9M219.53 437.68h9M219.53 472.65h9M228.84 443.57h9M228.84 476.22h9M238.14 449.43h9M238.14 478.99h9M247.45 453.70h9M247.45 484.26h9M256.75 457.78h9M256.75 486.53h9M266.06 460.67h9M266.06 490.33h9M275.36 462.74h9M275.36 492.69h9M284.67 463.35h9M284.67 494.70h9M293.97 463.22h9M293.97 493.58h9M303.28 465.13h9M303.28 496.08h9M312.58 467.34h9M312.58 497.17h9M321.89 468.15h9M321.89 497.99h9M331.19 469.77h9M331.19 498.99h9M340.50 469.68h9M340.50 499.35h9M349.80 470.41h9M349.80 499.72h9M359.11 471.60h9M359.11 501.15h9M368.41 470.24h9M368.41 502.15h9M377.72 472.84h9M377.72 501.76h9M387.02 472.45h9M387.02 501.07h9M396.33 471.86h9M396.33 503.05h9M405.63 472.88h9M405.63 501.94h9M414.94 473.40h9M414.94 503.18h9M424.24 473.01h9M424.24 503.34h9M433.55 474.00h9M433.55 503.41h9M442.85 473.00h9M442.85 503.62h9M452.16 473.27h9M452.16 502.73h9M461.46 472.92h9M461.46 502.46h9M470.77 472.32h9M470.77 502.32h9M480.07 473.72h9M480.07 502.34h9M489.38 473.28h9M489.38 502.30h9M498.68 472.37h9M498.68 502.80h9M507.99 473.13h9M507.99 502.85h9M517.29 472.73h9M517.29 502.16h9M526.60 473.20h9M526.60 502.99h9M535.90 472.63h9M535.90 502.15h9M545.21 473.05h9M545.21 501.05h9M554.51 472.16h9M554.51 501.94h9M563.82 472.34h9M563.82 501.26h9M573.12 471.82h9M573.12 501.21h9M582.43 473.47h9M582.43 502.11h9M591.73 471.57h9M591.73 501.78h9M601.04 471.72h9M601.04 500.69h9M610.34 472.09h9M610.34 499.86h9M619.65 471.26h9M619.65 499.60h9M628.95 471.43h9M628.95 500.92h9M638.26 470.93h9M638.26 499.18h9M647.56 471.11h9M647.56 498.92h9M656.87 469.58h9M656.87 498.84h9M666.17 468.87h9M666.17 498.74h9M675.48 469.73h9M675.48 498.96h9M684.78 469.76h9M684.78 497.56h9M694.09 469.57h9M694.09 499.83h9M703.39 469.41h9M703.39 497.44h9M712.70 468.09h9M712.70 496.93h9M722.00 467.93h9M722.00 497.18h9M731.31 468.19h9M731.31 497.32h9M740.61 467.91h9M740.61 495.85h9M749.92 468.00h9M749.92 496.65h9M759.22 467.13h9M759.22 496.32h9M768.53 467.43h9M768.53 495.51h9M777.83 465.92h9M777.83 494.68h9M787.14 467.34h9M787.14 494.54h9M796.44 466.71h9M796.44 494.50h9M805.75 466.08h9M805.75 494.29h9M815.05 466.05h9M815.05 493.97h9M824.36 465.90h9M824.36 493.87h9M833.66 466.04h9M833.66 494.97h9M842.97 466.37h9M842.97 493.25h9M852.27 463.50h9M852.27 493.62h9M861.58 463.94h9M861.58 493.69h9M870.88 463.60h9M870.88 492.74h9M880.19 464.89h9M880.19 491.79h9M889.49 463.66h9M889.49 493.31h9M898.80 462.47h9M898.80 492.54h9M908.10 462.90h9M908.10 492.01h9M917.41 462.75h9M917.41 491.41h9M926.71 460.83h9M926.71 491.72h9M936.02 461.47h9M936.02 491.41h9M945.32 460.93h9M945.32 491.34h9M954.63 461.99h9M954.63 490.64h9M963.93 460.07h9M963.93 490.35h9M973.24 460.44h9M973.24 489.46h9M982.54 459.28h9M982.54 491.01h9M991.85 458.68h9M991.85 490.37h9M1001.15 459.17h9M1001.15 490.10h9M1010.46 459.57h9M1010.46 490.40h9M1019.76 458.39h9M1019.76 488.20h9M1029.07 457.72h9M1029.07 488.81h9M1038.37 456.65h9M1038.37 488.60h9M1047.68 456.84h9M1047.68 488.06h9M1056.98 458.02h9M1056.98 488.97h9M1066.29 457.21h9M1066.29 486.93h9M1075.59 457.34h9M1075.59 488.46h9M1084.90 456.44h9M1084.90 488.27h9" stroke="#00b400" stroke-opacity="0.30" stroke-width="2.2" fill="none"/>
<path d="M166.81 307.91h9M166.81 354.35h9M176.11 359.94h9M176.11 408.65h9M185.41 389.00h9M185.41 434.15h9M194.72 408.55h9M194.72 452.48h9M204.03 425.54h9M204.03 461.68h9M213.33 433.84h9M213.33 467.15h9M222.63 440.27h9M222.63 471.85h9M231.94 445.67h9M231.94 476.61h9M241.25 452.05h9M241.25 481.76h9M250.55 455.06h9M250.55 486.19h9M259.86 459.29h9M259.86 488.20h9M269.16 461.35h9M269.16 491.46h9M278.47 462.06h9M278.47 493.35h9M287.77 464.42h9M287.77 493.77h9M297.08 464.00h9M297.08 495.55h9M306.38 466.53h9M306.38 496.06h9M315.69 467.75h9M315.69 496.49h9M324.99 469.25h9M324.99 496.91h9M334.30 470.82h9M334.30 499.15h9M343.60 469.61h9M343.60 498.80h9M352.91 470.65h9M352.91 500.42h9M362.21 470.79h9M362.21 501.98h9M371.51 472.49h9M371.51 500.48h9M380.82 472.00h9M380.82 501.91h9M390.12 472.19h9M390.12 502.10h9M399.43 473.53h9M399.43 502.31h9M408.74 472.54h9M408.74 502.49h9M418.04 472.88h9M418.04 502.25h9M427.35 472.63h9M427.35 504.14h9M436.65 472.90h9M436.65 503.09h9M445.96 473.49h9M445.96 504.34h9M455.26 473.43h9M455.26 502.96h9M464.57 472.91h9M464.57 503.92h9M473.87 473.07h9M473.87 504.08h9M483.18 473.53h9M483.18 503.10h9M492.48 472.78h9M492.48 501.55h9M501.79 473.55h9M501.79 501.03h9M511.09 471.70h9M511.09 502.14h9M520.39 472.22h9M520.39 501.78h9M529.70 472.74h9M529.70 501.26h9M539.01 472.53h9M539.01 501.56h9M548.31 472.14h9M548.31 501.33h9M557.62 471.64h9M557.62 501.16h9M566.92 472.78h9M566.92 501.63h9M576.23 472.61h9M576.23 502.18h9M585.53 472.16h9M585.53 501.94h9M594.84 471.62h9M594.84 500.72h9M604.14 472.07h9M604.14 500.26h9M613.45 471.06h9M613.45 500.19h9M622.75 472.00h9M622.75 499.82h9M632.06 470.55h9M632.06 498.93h9M641.36 470.64h9M641.36 498.75h9M650.67 470.96h9M650.67 499.79h9M659.97 469.83h9M659.97 499.44h9M669.28 470.51h9M669.28 499.01h9M678.58 470.37h9M678.58 498.76h9M687.89 468.94h9M687.89 499.10h9M697.19 468.75h9M697.19 497.50h9M706.50 467.84h9M706.50 497.76h9M715.80 469.45h9M715.80 497.25h9M725.11 467.98h9M725.11 497.38h9M734.41 469.16h9M734.41 496.88h9M743.72 468.34h9M743.72 495.99h9M753.02 468.25h9M753.02 495.92h9M762.33 467.81h9M762.33 495.36h9M771.63 466.54h9M771.63 495.84h9M780.94 467.26h9M780.94 495.36h9M790.24 466.19h9M790.24 494.64h9M799.55 465.41h9M799.55 495.13h9M808.85 466.96h9M808.85 494.75h9M818.16 465.76h9M818.16 493.58h9M827.46 465.73h9M827.46 493.71h9M836.77 466.03h9M836.77 494.26h9M846.07 465.31h9M846.07 492.67h9M855.38 464.92h9M855.38 492.52h9M864.68 463.11h9M864.68 492.57h9M873.99 463.56h9M873.99 493.02h9M883.29 464.07h9M883.29 493.59h9M892.60 461.79h9M892.60 493.23h9M901.90 462.04h9M901.90 492.70h9M911.21 462.52h9M911.21 491.67h9M920.51 461.62h9M920.51 491.48h9M929.82 461.58h9M929.82 490.98h9M939.12 461.83h9M939.12 491.56h9M948.43 460.64h9M948.43 490.30h9M957.73 461.27h9M957.73 491.16h9M967.04 460.38h9M967.04 490.40h9M976.34 459.30h9M976.34 490.07h9M985.65 459.52h9M985.65 490.03h9M994.95 458.95h9M994.95 490.26h9M1004.26 459.30h9M1004.26 489.65h9M1013.56 458.84h9M1013.56 489.10h9M1022.87 459.59h9M1022.87 488.90h9M1032.17 458.90h9M1032.17 488.56h9M1041.48 457.72h9M1041.48 488.87h9M1050.78 457.26h9M1050.78 487.53h9M1060.09 457.81h9M1060.09 487.76h9M1069.39 458.05h9M1069.39 486.82h9M1078.70 456.39h9M1078.70 486.86h9M1088.00 457.27h9M1088.00 486.08h9" stroke="#00b400" stroke-opacity="0.30" stroke-width="2.2" fill="none"/>
<path d="M204.00 88.30V128.90M199.10 88.30h9.8M199.10 128.90h9.8M218.10 194.60V227.90M213.20 194.60h9.8M213.20 227.90h9.8M232.10 266.80V295.60M227.20 266.80h9.8M227.20 295.60h9.8M246.40 278.90V307.50M241.50 278.90h9.8M241.50 307.50h9.8M260.20 281.60V310.20M255.30 281.60h9.8M255.30 310.20h9.8M274.10 282.90V311.00M269.20 282.90h9.8M269.20 311.00h9.8M288.20 298.80V324.50M283.30 298.80h9.8M283.30 324.50h9.8M302.40 297.60V321.00M297.50 297.60h9.8M297.50 321.00h9.8M316.30 287.40V313.80M311.40 287.40h9.8M311.40 313.80h9.8M330.20 277.50V306.20M325.30 277.50h9.8M325.30 306.20h9.8M344.30 303.30V327.20M339.40 303.30h9.8M339.40 327.20h9.8M358.30 297.90V324.20M353.40 297.90h9.8M353.40 324.20h9.8M372.20 293.20V317.90M367.30 293.20h9.8M367.30 317.90h9.8M386.60 283.10V307.00M381.70 283.10h9.8M381.70 307.00h9.8M400.40 282.20V307.00M395.50 282.20h9.8M395.50 307.00h9.8M414.30 281.30V305.20M409.40 281.30h9.8M409.40 305.20h9.8M428.40 286.70V310.30M423.50 286.70h9.8M423.50 310.30h9.8M442.70 269.90V294.90M437.80 269.90h9.8M437.80 294.90h9.8M456.50 291.10V314.80M451.60 291.10h9.8M451.60 314.80h9.8M470.80 273.50V298.50M465.90 273.50h9.8M465.90 298.50h9.8M484.90 269.90V294.30M480.00 269.90h9.8M480.00 294.30h9.8M498.80 276.80V301.20M493.90 276.80h9.8M493.90 301.20h9.8M512.90 278.60V304.70M508.00 278.60h9.8M508.00 304.70h9.8M526.90 278.10V302.50M522.00 278.10h9.8M522.00 302.50h9.8M541.00 272.60V297.40M536.10 272.60h9.8M536.10 297.40h9.8M555.00 264.30V289.20M550.10 264.30h9.8M550.10 289.20h9.8M568.90 269.00V293.90M564.00 269.00h9.8M564.00 293.90h9.8M583.00 252.70V278.60M578.10 252.70h9.8M578.10 278.60h9.8M597.00 279.80V304.30M592.10 279.80h9.8M592.10 304.30h9.8M611.10 258.50V283.80M606.20 258.50h9.8M606.20 283.80h9.8M625.00 270.80V295.70M620.10 270.80h9.8M620.10 295.70h9.8M639.10 264.10V289.20M634.20 264.10h9.8M634.20 289.20h9.8M653.20 272.20V297.60M648.30 272.20h9.8M648.30 297.60h9.8M688.30 265.90V291.20M683.40 265.90h9.8M683.40 291.20h9.8M723.30 260.60V286.20M718.40 260.60h9.8M718.40 286.20h9.8M758.30 262.20V287.40M753.40 262.20h9.8M753.40 287.40h9.8M793.30 253.20V278.50M788.40 253.20h9.8M788.40 278.50h9.8M828.60 261.70V286.70M823.70 261.70h9.8M823.70 286.70h9.8M863.50 250.80V276.70M858.60 250.80h9.8M858.60 276.70h9.8M898.70 244.10V269.70M893.80 244.10h9.8M893.80 269.70h9.8M933.70 250.00V276.10M928.80 250.00h9.8M928.80 276.10h9.8M968.90 251.40V277.00M964.00 251.40h9.8M964.00 277.00h9.8M1003.60 240.30V266.60M998.70 240.30h9.8M998.70 266.60h9.8M1038.80 254.20V282.70M1033.90 254.20h9.8M1033.90 282.70h9.8M1074.00 236.50V264.70M1069.10 236.50h9.8M1069.10 264.70h9.8" stroke="#0000ff" stroke-width="2.2" fill="none"/>
<rect x="199.10" y="103.90" width="9.8" height="9.8" fill="#0000ff"/>
<rect x="213.20" y="206.60" width="9.8" height="9.8" fill="#0000ff"/>
<rect x="227.20" y="276.40" width="9.8" height="9.8" fill="#0000ff"/>
<rect x="241.50" y="288.90" width="9.8" height="9.8" fill="#0000ff"/>
<rect x="255.30" y="291.20" width="9.8" height="9.8" fill="#0000ff"/>
<rect x="269.20" y="291.60" width="9.8" height="9.8" fill="#0000ff"/>
<rect x="283.30" y="307.00" width="9.8" height="9.8" fill="#0000ff"/>
<rect x="297.50" y="304.20" width="9.8" height="9.8" fill="#0000ff"/>
<rect x="311.40" y="296.10" width="9.8" height="9.8" fill="#0000ff"/>
<rect x="325.30" y="286.70" width="9.8" height="9.8" fill="#0000ff"/>
<rect x="339.40" y="310.60" width="9.8" height="9.8" fill="#0000ff"/>
<rect x="353.40" y="306.20" width="9.8" height="9.8" fill="#0000ff"/>
<rect x="367.30" y="300.60" width="9.8" height="9.8" fill="#0000ff"/>
<rect x="381.70" y="290.30" width="9.8" height="9.8" fill="#0000ff"/>
<rect x="395.50" y="289.40" width="9.8" height="9.8" fill="#0000ff"/>
<rect x="409.40" y="288.50" width="9.8" height="9.8" fill="#0000ff"/>
<rect x="423.50" y="293.60" width="9.8" height="9.8" fill="#0000ff"/>
<rect x="437.80" y="277.70" width="9.8" height="9.8" fill="#0000ff"/>
<rect x="451.60" y="297.60" width="9.8" height="9.8" fill="#0000ff"/>
<rect x="465.90" y="281.30" width="9.8" height="9.8" fill="#0000ff"/>
<rect x="480.00" y="277.30" width="9.8" height="9.8" fill="#0000ff"/>
<rect x="493.90" y="283.70" width="9.8" height="9.8" fill="#0000ff"/>
<rect x="508.00" y="286.70" width="9.8" height="9.8" fill="#0000ff"/>
<rect x="522.00" y="284.90" width="9.8" height="9.8" fill="#0000ff"/>
<rect x="536.10" y="280.00" width="9.8" height="9.8" fill="#0000ff"/>
<rect x="550.10" y="272.10" width="9.8" height="9.8" fill="#0000ff"/>
<rect x="564.00" y="277.30" width="9.8" height="9.8" fill="#0000ff"/>
<rect x="578.10" y="260.40" width="9.8" height="9.8" fill="#0000ff"/>
<rect x="592.10" y="287.20" width="9.8" height="9.8" fill="#0000ff"/>
<rect x="606.20" y="266.40" width="9.8" height="9.8" fill="#0000ff"/>
<rect x="620.10" y="278.20" width="9.8" height="9.8" fill="#0000ff"/>
<rect x="634.20" y="272.20" width="9.8" height="9.8" fill="#0000ff"/>
<rect x="648.30" y="280.00" width="9.8" height="9.8" fill="#0000ff"/>
<rect x="683.40" y="273.70" width="9.8" height="9.8" fill="#0000ff"/>
<rect x="718.40" y="268.60" width="9.8" height="9.8" fill="#0000ff"/>
<rect x="753.40" y="270.00" width="9.8" height="9.8" fill="#0000ff"/>
<rect x="788.40" y="260.90" width="9.8" height="9.8" fill="#0000ff"/>
<rect x="823.70" y="269.10" width="9.8" height="9.8" fill="#0000ff"/>
<rect x="858.60" y="258.60" width="9.8" height="9.8" fill="#0000ff"/>
<rect x="893.80" y="251.90" width="9.8" height="9.8" fill="#0000ff"/>
<rect x="928.80" y="258.40" width="9.8" height="9.8" fill="#0000ff"/>
<rect x="964.00" y="259.40" width="9.8" height="9.8" fill="#0000ff"/>
<rect x="998.70" y="248.90" width="9.8" height="9.8" fill="#0000ff"/>
<rect x="1033.90" y="263.60" width="9.8" height="9.8" fill="#0000ff"/>
<rect x="1069.10" y="245.10" width="9.8" height="9.8" fill="#0000ff"/>
<path d="M204.10 473.50V493.00M199.20 473.50h9.8M199.20 493.00h9.8M218.10 493.90V512.60M213.20 493.90h9.8M213.20 512.60h9.8M232.20 487.20V505.10M227.30 487.20h9.8M227.30 505.10h9.8M246.10 485.20V503.90M241.20 485.20h9.8M241.20 503.90h9.8M260.20 483.40V502.40M255.30 483.40h9.8M255.30 502.40h9.8M274.20 477.10V495.70M269.30 477.10h9.8M269.30 495.70h9.8M288.30 479.80V498.40M283.40 479.80h9.8M283.40 498.40h9.8M302.20 482.70V500.60M297.30 482.70h9.8M297.30 500.60h9.8M316.20 483.40V500.80M311.30 483.40h9.8M311.30 500.80h9.8M330.30 478.00V495.70M325.40 478.00h9.8M325.40 495.70h9.8M344.20 481.20V499.70M339.30 481.20h9.8M339.30 499.70h9.8M358.30 464.00V489.80M353.40 464.00h9.8M353.40 489.80h9.8M372.40 459.90V488.50M367.50 459.90h9.8M367.50 488.50h9.8M386.80 472.10V496.20M381.90 472.10h9.8M381.90 496.20h9.8M400.30 472.60V496.70M395.40 472.60h9.8M395.40 496.70h9.8M414.50 486.60V508.30M409.60 486.60h9.8M409.60 508.30h9.8M428.80 472.60V495.20M423.90 472.60h9.8M423.90 495.20h9.8M442.50 475.90V499.20M437.60 475.90h9.8M437.60 499.20h9.8M456.80 469.90V494.00M451.90 469.90h9.8M451.90 494.00h9.8M470.60 472.60V496.70M465.70 472.60h9.8M465.70 496.70h9.8M484.90 468.50V491.60M480.00 468.50h9.8M480.00 491.60h9.8M498.60 474.10V498.00M493.70 474.10h9.8M493.70 498.00h9.8M512.60 470.80V497.60M507.70 470.80h9.8M507.70 497.60h9.8M526.70 483.50V506.70M521.80 483.50h9.8M521.80 506.70h9.8M540.60 466.80V490.70M535.70 466.80h9.8M535.70 490.70h9.8M554.70 472.60V496.70M549.80 472.60h9.8M549.80 496.70h9.8M568.90 460.00V484.80M564.00 460.00h9.8M564.00 484.80h9.8M583.10 460.90V484.80M578.20 460.90h9.8M578.20 484.80h9.8M597.00 462.20V487.00M592.10 462.20h9.8M592.10 487.00h9.8M610.70 474.00V498.40M605.80 474.00h9.8M605.80 498.40h9.8M624.90 476.10V499.70M620.00 476.10h9.8M620.00 499.70h9.8M638.80 469.80V493.90M633.90 469.80h9.8M633.90 493.90h9.8M653.10 462.20V485.70M648.20 462.20h9.8M648.20 485.70h9.8M688.40 464.90V491.70M683.50 464.90h9.8M683.50 491.70h9.8M723.30 464.90V488.60M718.40 464.90h9.8M718.40 488.60h9.8M758.30 468.40V492.50M753.40 468.40h9.8M753.40 492.50h9.8M793.30 459.40V484.90M788.40 459.40h9.8M788.40 484.90h9.8M828.60 486.70V516.40M823.70 486.70h9.8M823.70 516.40h9.8M863.50 464.80V492.10M858.60 464.80h9.8M858.60 492.10h9.8M898.70 465.30V489.80M893.80 465.30h9.8M893.80 489.80h9.8M933.70 457.10V482.20M928.80 457.10h9.8M928.80 482.20h9.8M968.90 467.60V493.60M964.00 467.60h9.8M964.00 493.60h9.8M1003.60 464.30V489.80M998.70 464.30h9.8M998.70 489.80h9.8M1038.80 471.70V497.60M1033.90 471.70h9.8M1033.90 497.60h9.8M1074.00 472.70V496.60M1069.10 472.70h9.8M1069.10 496.60h9.8" stroke="#cc0000" stroke-width="2.2" fill="none"/>
<path d="M198.10 483.40L204.10 477.80L210.10 483.40L204.10 489.00ZM212.10 503.50L218.10 497.90L224.10 503.50L218.10 509.10ZM226.20 496.10L232.20 490.50L238.20 496.10L232.20 501.70ZM240.10 494.50L246.10 488.90L252.10 494.50L246.10 500.10ZM254.20 492.60L260.20 487.00L266.20 492.60L260.20 498.20ZM268.20 486.30L274.20 480.70L280.20 486.30L274.20 491.90ZM282.30 489.40L288.30 483.80L294.30 489.40L288.30 495.00ZM296.20 491.20L302.20 485.60L308.20 491.20L302.20 496.80ZM310.20 491.70L316.20 486.10L322.20 491.70L316.20 497.30ZM324.30 486.10L330.30 480.50L336.30 486.10L330.30 491.70ZM338.20 490.30L344.20 484.70L350.20 490.30L344.20 495.90ZM352.30 476.40L358.30 470.80L364.30 476.40L358.30 482.00ZM366.40 473.60L372.40 468.00L378.40 473.60L372.40 479.20ZM380.80 483.80L386.80 478.20L392.80 483.80L386.80 489.40ZM394.30 484.40L400.30 478.80L406.30 484.40L400.30 490.00ZM408.50 497.40L414.50 491.80L420.50 497.40L414.50 503.00ZM422.80 483.50L428.80 477.90L434.80 483.50L428.80 489.10ZM436.50 487.50L442.50 481.90L448.50 487.50L442.50 493.10ZM450.80 482.20L456.80 476.60L462.80 482.20L456.80 487.80ZM464.60 484.40L470.60 478.80L476.60 484.40L470.60 490.00ZM478.90 479.90L484.90 474.30L490.90 479.90L484.90 485.50ZM492.60 485.30L498.60 479.70L504.60 485.30L498.60 490.90ZM506.60 483.50L512.60 477.90L518.60 483.50L512.60 489.10ZM520.70 494.90L526.70 489.30L532.70 494.90L526.70 500.50ZM534.60 478.60L540.60 473.00L546.60 478.60L540.60 484.20ZM548.70 484.20L554.70 478.60L560.70 484.20L554.70 489.80ZM562.90 472.20L568.90 466.60L574.90 472.20L568.90 477.80ZM577.10 472.70L583.10 467.10L589.10 472.70L583.10 478.30ZM591.00 474.50L597.00 468.90L603.00 474.50L597.00 480.10ZM604.70 486.30L610.70 480.70L616.70 486.30L610.70 491.90ZM618.90 487.90L624.90 482.30L630.90 487.90L624.90 493.50ZM632.80 481.70L638.80 476.10L644.80 481.70L638.80 487.30ZM647.10 473.60L653.10 468.00L659.10 473.60L653.10 479.20ZM682.40 477.90L688.40 472.30L694.40 477.90L688.40 483.50ZM717.30 476.70L723.30 471.10L729.30 476.70L723.30 482.30ZM752.30 480.20L758.30 474.60L764.30 480.20L758.30 485.80ZM787.30 472.00L793.30 466.40L799.30 472.00L793.30 477.60ZM822.60 501.50L828.60 495.90L834.60 501.50L828.60 507.10ZM857.50 478.40L863.50 472.80L869.50 478.40L863.50 484.00ZM892.70 477.30L898.70 471.70L904.70 477.30L898.70 482.90ZM927.70 469.50L933.70 463.90L939.70 469.50L933.70 475.10ZM962.90 479.90L968.90 474.30L974.90 479.90L968.90 485.50ZM997.60 476.70L1003.60 471.10L1009.60 476.70L1003.60 482.30ZM1032.80 484.70L1038.80 479.10L1044.80 484.70L1038.80 490.30ZM1068.00 484.70L1074.00 479.10L1080.00 484.70L1074.00 490.30Z" fill="#cc0000"/>
<rect x="162.0" y="51.9" width="930.5" height="721.3000000000001" fill="none" stroke="#000" stroke-width="2.4"/>
<path d="M155.50 773.50H162.0M155.50 677.31H162.0M155.50 581.13H162.0M155.50 484.94H162.0M155.50 388.76H162.0M155.50 292.57H162.0M155.50 196.39H162.0M155.50 100.20H162.0M162.00 773.5V780.00M317.08 773.5V780.00M472.17 773.5V780.00M627.25 773.5V780.00M782.33 773.5V780.00M937.42 773.5V780.00M1092.50 773.5V780.00" stroke="#000" stroke-width="2.3" fill="none"/>
<text x="149.5" y="787.70" font-family="Liberation Serif" font-size="44.2" text-anchor="end">0</text>
<text x="149.5" y="691.51" font-family="Liberation Serif" font-size="44.2" text-anchor="end">20</text>
<text x="149.5" y="595.33" font-family="Liberation Serif" font-size="44.2" text-anchor="end">40</text>
<text x="149.5" y="499.14" font-family="Liberation Serif" font-size="44.2" text-anchor="end">60</text>
<text x="149.5" y="402.96" font-family="Liberation Serif" font-size="44.2" text-anchor="end">80</text>
<text x="149.5" y="306.77" font-family="Liberation Serif" font-size="44.2" text-anchor="end">100</text>
<text x="149.5" y="210.59" font-family="Liberation Serif" font-size="44.2" text-anchor="end">120</text>
<text x="149.5" y="114.40" font-family="Liberation Serif" font-size="44.2" text-anchor="end">140</text>
<text x="162.00" y="824.2" font-family="Liberation Serif" font-size="44.5" text-anchor="middle">0</text>
<text x="317.08" y="824.2" font-family="Liberation Serif" font-size="44.5" text-anchor="middle">0.5</text>
<text x="472.17" y="824.2" font-family="Liberation Serif" font-size="44.5" text-anchor="middle">1</text>
<text x="627.25" y="824.2" font-family="Liberation Serif" font-size="44.5" text-anchor="middle">1.5</text>
<text x="782.33" y="824.2" font-family="Liberation Serif" font-size="44.5" text-anchor="middle">2</text>
<text x="937.42" y="824.2" font-family="Liberation Serif" font-size="44.5" text-anchor="middle">2.5</text>
<text x="1092.50" y="824.2" font-family="Liberation Serif" font-size="44.5" text-anchor="middle">3</text>
<text x="594.2" y="907.1" font-family="Liberation Serif" font-size="46.1" text-anchor="middle">leading edge threshold [SPAD amplitudes]</text>
<text transform="translate(36,443) rotate(-90)" font-family="Liberation Serif" font-size="46.5" text-anchor="middle">CTR FWHM [ps]</text>
<text x="161.2" y="32.6" font-family="Liberation Serif" font-size="36.45">FBK NUV-HD 4x4mm<tspan font-size="21.8" dy="-15.1">2</tspan><tspan dy="15.1">, 40x40µm</tspan><tspan font-size="21.8" dy="-15.1">2</tspan><tspan dy="15.1"> SPAD + LSO:Ce:Ca</tspan></text>
<text y="203.9" font-family="Liberation Serif" font-weight="bold" font-size="33.4" fill="#2b2ade"><tspan x="263.4">2x2x20mm</tspan><tspan x="420.7" y="190.1" font-size="19.6">3</tspan><tspan x="438.7" y="203.9">LSO:Ce:0.2%Ca,</tspan><tspan x="698" y="203.9">CTR</tspan><tspan x="770" y="217.20000000000002" font-size="19.6">measured</tspan><tspan x="850" y="203.9">=98ps FWHM</tspan></text>
<text y="421.8" font-family="Liberation Serif" font-weight="bold" font-size="33.4" fill="#cc0000"><tspan x="264.4">2x2x3mm</tspan><tspan x="403.9" y="408.0" font-size="19.6">3</tspan><tspan x="422.5" y="421.8">LSO:Ce:0.4%Ca,</tspan><tspan x="683" y="421.8">CTR</tspan><tspan x="753" y="435.1" font-size="19.6">measured</tspan><tspan x="834" y="421.8">=58ps FWHM</tspan></text>
<rect x="225.6" y="614.2" width="22.3" height="22.2" fill="#0000ff"/>
<path d="M225.9 669.45L236.9 658.5L247.9 669.45L236.9 680.4Z" fill="#cc0000"/>
<path d="M218 713.3H256" stroke="#559b1e" stroke-width="7"/>
<text x="263.5" y="637.6" font-family="Liberation Serif" font-size="36.5">CTR measured: 2x2x20mm³ LSO:Ce:Ca</text>
<text x="263.5" y="681.8" font-family="Liberation Serif" font-size="36.5">CTR measured: 2x2x3mm³ LSO:Ce:Ca</text>
<text x="263.5" y="725.8" font-family="Liberation Serif" font-size="36.5">Monte-Carlo simulation</text>
</svg>
</body></html>
